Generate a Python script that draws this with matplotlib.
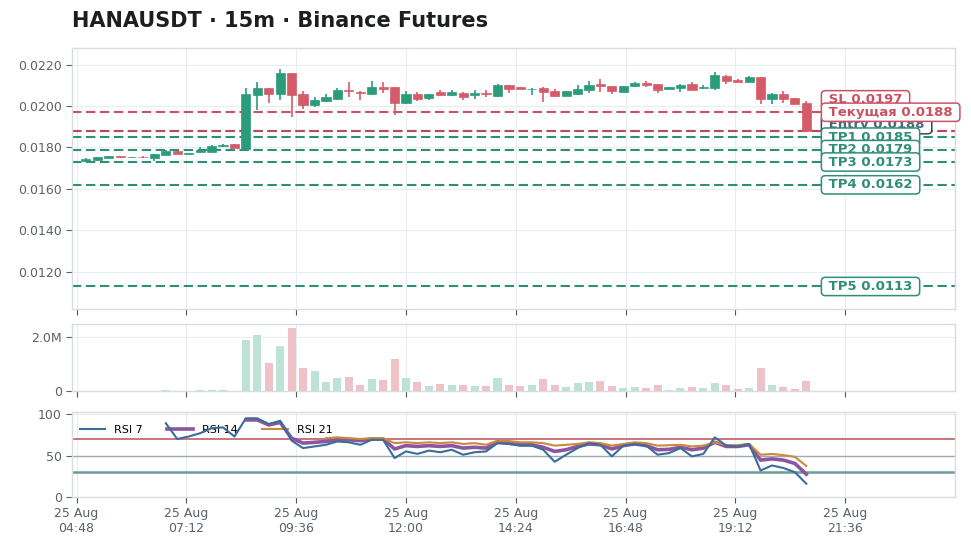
import matplotlib
matplotlib.use('Agg')
import matplotlib.pyplot as plt
import matplotlib.dates as mdates
from matplotlib.ticker import FuncFormatter
import numpy as np
import pandas as pd

# 15m candles, 05:00 .. 20:45
times = pd.date_range('2025-08-25 05:00', periods=64, freq='15min')

opens = [0.01733, 0.01738, 0.01751, 0.01759, 0.01752, 0.01755, 0.01748, 0.01765,
         0.01783, 0.01770, 0.01776, 0.01780, 0.01806, 0.01817, 0.01793, 0.02052,
         0.02087, 0.02058, 0.02157, 0.02058, 0.02003, 0.02023, 0.02034, 0.02079,
         0.02068, 0.02058, 0.02090, 0.02092, 0.02015, 0.02060, 0.02040, 0.02066,
         0.02052, 0.02063, 0.02053, 0.02062, 0.02047, 0.02099, 0.02090, 0.02080,
         0.02087, 0.02074, 0.02050, 0.02057, 0.02079, 0.02108, 0.02095, 0.02068,
         0.02095, 0.02110, 0.02105, 0.02084, 0.02087, 0.02105, 0.02086, 0.02086,
         0.02147, 0.02123, 0.02118, 0.02139, 0.02034, 0.02058, 0.02039, 0.02015]
highs = [0.01750, 0.01755, 0.01760, 0.01761, 0.01755, 0.01757, 0.01770, 0.01786,
         0.01785, 0.01774, 0.01800, 0.01810, 0.01818, 0.01819, 0.02087, 0.02115,
         0.02089, 0.02176, 0.02160, 0.02071, 0.02044, 0.02060, 0.02087, 0.02115,
         0.02070, 0.02120, 0.02115, 0.02094, 0.02071, 0.02068, 0.02060, 0.02079,
         0.02076, 0.02066, 0.02076, 0.02076, 0.02108, 0.02101, 0.02093, 0.02086,
         0.02093, 0.02080, 0.02074, 0.02103, 0.02120, 0.02132, 0.02097, 0.02097,
         0.02115, 0.02121, 0.02107, 0.02092, 0.02108, 0.02115, 0.02099, 0.02163,
         0.02149, 0.02132, 0.02147, 0.02141, 0.02063, 0.02074, 0.02041, 0.02026]
lows = [0.01728, 0.01735, 0.01749, 0.01750, 0.01750, 0.01750, 0.01733, 0.01763,
        0.01767, 0.01768, 0.01774, 0.01778, 0.01804, 0.01796, 0.01792, 0.01979,
        0.02015, 0.02028, 0.01945, 0.01986, 0.01994, 0.02020, 0.02028, 0.02042,
        0.02031, 0.02055, 0.02063, 0.01958, 0.02012, 0.02026, 0.02031, 0.02050,
        0.02050, 0.02028, 0.02034, 0.02044, 0.02045, 0.02063, 0.02081, 0.02055,
        0.02018, 0.02045, 0.02048, 0.02055, 0.02063, 0.02068, 0.02058, 0.02066,
        0.02093, 0.02094, 0.02063, 0.02082, 0.02068, 0.02077, 0.02084, 0.02079,
        0.02108, 0.02114, 0.02116, 0.02010, 0.02010, 0.02013, 0.02010, 0.01878]
closes = [0.01746, 0.01752, 0.01758, 0.01752, 0.01754, 0.01752, 0.01769, 0.01784,
          0.01769, 0.01772, 0.01789, 0.01808, 0.01814, 0.01798, 0.02058, 0.02087,
          0.02058, 0.02160, 0.02052, 0.02007, 0.02028, 0.02044, 0.02079, 0.02070,
          0.02063, 0.02090, 0.02084, 0.02015, 0.02058, 0.02034, 0.02058, 0.02052,
          0.02066, 0.02044, 0.02063, 0.02058, 0.02099, 0.02083, 0.02083, 0.02084,
          0.02068, 0.02050, 0.02071, 0.02083, 0.02103, 0.02095, 0.02071, 0.02095,
          0.02110, 0.02099, 0.02079, 0.02090, 0.02100, 0.02079, 0.02092, 0.02148,
          0.02121, 0.02116, 0.02139, 0.02034, 0.02058, 0.02036, 0.02012, 0.01880]

# volume in millions
volumes = [0.005, 0.004, 0.003, 0.003, 0.002, 0.004, 0.006, 0.03, 0.01, 0.005,
           0.03, 0.03, 0.02, 0.01, 1.90, 2.09, 1.06, 1.69, 2.36, 0.86,
           0.75, 0.34, 0.48, 0.52, 0.22, 0.45, 0.41, 1.19, 0.48, 0.34,
           0.19, 0.26, 0.22, 0.22, 0.19, 0.19, 0.48, 0.22, 0.19, 0.22,
           0.45, 0.22, 0.14, 0.30, 0.34, 0.37, 0.19, 0.10, 0.15, 0.10,
           0.22, 0.03, 0.10, 0.15, 0.10, 0.30, 0.22, 0.06, 0.10, 0.86,
           0.22, 0.15, 0.06, 0.37]

nan = np.nan
rsi7 = [nan] * 7 + [89, 70, 73, 77, 83, 84, 73, 95, 95, 88, 92, 68, 59, 61, 63, 67,
                    66, 63, 69, 69, 47, 55, 52, 56, 54, 57, 51, 54, 55, 65, 64, 62,
                    62, 57, 42.5, 51, 59, 65, 63, 49, 62, 64, 62, 51, 53, 59, 49, 52,
                    72, 62, 61, 64, 32, 38, 35, 30, 16]
rsi14 = [nan] * 14 + [93, 93, 87, 90, 71, 65, 66, 67, 69, 69, 68, 70, 70, 58, 62, 61,
                      62, 61, 62, 59, 60, 59, 66, 65, 63, 63, 60, 55, 57, 61, 64, 63,
                      58, 62, 64, 62, 57, 57.5, 60, 57, 59, 66, 61, 61, 63, 44.5, 46,
                      44.5, 40.5, 27.5]
rsi21 = [nan] * 21 + [71, 72, 71, 70, 71, 71, 65, 66, 65, 66, 65, 66, 64, 65, 63, 68,
                      67.5, 66, 66, 65, 62, 63, 64, 66, 65, 62, 64, 66, 65, 62, 62.5,
                      63, 61, 62, 66, 62.5, 62.5, 64, 51, 52, 50.5, 48.5, 37.5]

level_names = ['SL', 'Entry', 'TP1', 'TP2', 'TP3', 'TP4', 'TP5', 'Текущая']
level_prices = [0.0197, 0.0188, 0.0185, 0.0179, 0.0173, 0.0162, 0.0113, 0.0188]

tick_times = pd.to_datetime(['2025-08-25 04:48', '2025-08-25 07:12', '2025-08-25 09:36',
                             '2025-08-25 12:00', '2025-08-25 14:24', '2025-08-25 16:48',
                             '2025-08-25 19:12', '2025-08-25 21:36'])

GREEN = '#2b9c7a'
RED = '#d65b69'
TP_COL = '#2f8f76'
SL_COL = '#cc5263'
ENTRY_COL = '#4b6680'
GRID = '#e8edf1'
SPINE = '#d6dee4'
TICK = '#5a6168'

fig = plt.figure(figsize=(9.71, 5.48), dpi=100)
ax = fig.add_axes([0.0742, 0.4356, 0.9093, 0.4777])
axv = fig.add_axes([0.0742, 0.2865, 0.9093, 0.1223], sharex=ax)
axr = fig.add_axes([0.0742, 0.0931, 0.9093, 0.1542], sharex=ax)

x = mdates.date2num(times)
step = 15 / 1440.0
up = np.array(closes) >= np.array(opens)

# candles
for i in range(len(x)):
    c = GREEN if up[i] else RED
    ax.vlines(x[i], lows[i], highs[i], color=c, lw=1.2, zorder=3)
    lo = min(opens[i], closes[i])
    h = max(abs(closes[i] - opens[i]), 0.00003)
    ax.bar(x[i], h, bottom=lo, width=step * 0.8, color=c, edgecolor=c, lw=0.5, zorder=4)

# level lines
for name, p in zip(level_names, level_prices):
    if name == 'SL':
        col = SL_COL
    elif name in ('Текущая', 'Entry'):
        col = '#b84a5e'
    else:
        col = TP_COL
    ax.axhline(p, color=col, lw=1.5, ls=(0, (4.5, 2.2)), zorder=2)

# labels, pushed apart so they do not sit on top of each other
gap = 0.0006
order = sorted(range(len(level_prices)), key=lambda k: (level_prices[k], k))
label_y = {}
last = None
for k in order:
    y = level_prices[k]
    if last is not None and y < last + gap:
        y = last + gap
    label_y[k] = y
    last = y

label_x = x[-1] + step * 1.55
for k, (name, p) in enumerate(zip(level_names, level_prices)):
    if name == 'SL' or name == 'Текущая':
        col, ecol = SL_COL, SL_COL
    elif name == 'Entry':
        col, ecol = ENTRY_COL, '#3a4756'
    else:
        col, ecol = TP_COL, TP_COL
    ax.text(label_x, label_y[k], f' {name} {p:.4f} ', color=col, fontsize=9.5,
            fontweight='bold', ha='left', va='center', zorder=10 + k,
            bbox=dict(boxstyle='round,pad=0.2,rounding_size=0.3', fc='white',
                      ec=ecol, lw=1.1))

ax.set_ylim(0.01020, 0.02282)
ax.set_yticks([0.012, 0.014, 0.016, 0.018, 0.020, 0.022])
ax.yaxis.set_major_formatter(FuncFormatter(lambda v, _: f'{v:.4f}'))

# volume
vcol = ['#bfe2d6' if u else '#efc2c7' for u in up]
axv.bar(x, np.array(volumes) * 1e6, width=step * 0.7, color=vcol, zorder=3)
axv.set_ylim(0, 2.5e6)
axv.set_yticks([0, 2e6])
axv.yaxis.set_major_formatter(FuncFormatter(lambda v, _: '0' if v == 0 else f'{v / 1e6:.1f}M'))

# rsi
axr.axhline(70, color='#c9747d', lw=1.4, zorder=2)
axr.axhline(50, color='#9eabad', lw=1.0, zorder=2)
axr.axhline(30, color='#6c9c97', lw=1.8, zorder=2)
axr.plot(x, rsi7, color='#3b6d9b', lw=1.5, label='RSI 7', zorder=4)
axr.plot(x, rsi14, color='#8b559f', lw=2.6, label='RSI 14', zorder=3)
axr.plot(x, rsi21, color='#c98a3d', lw=1.5, label='RSI 21', zorder=3)
axr.set_ylim(0, 102)
axr.set_yticks([0, 50, 100])
leg = axr.legend(loc='center left', bbox_to_anchor=(0.0, 0.79), ncol=3, frameon=False,
                 fontsize=8, handlelength=2.3, columnspacing=2.2, borderaxespad=0.3)
leg.set_zorder(1)

axr.set_xlim(mdates.date2num(pd.Timestamp('2025-08-25 04:42')),
             mdates.date2num(pd.Timestamp('2025-08-26 00:00')))
axr.set_xticks(mdates.date2num(tick_times))
axr.xaxis.set_major_formatter(mdates.DateFormatter('%d %b\n%H:%M'))

for a in (ax, axv, axr):
    a.set_facecolor('white')
    a.grid(True, color=GRID, lw=0.8, zorder=0)
    a.set_axisbelow(True)
    for s in a.spines.values():
        s.set_color(SPINE)
        s.set_linewidth(1.0)
    a.tick_params(axis='both', colors=TICK, labelsize=9, length=4, width=0.8)
    a.tick_params(axis='x', color='#555555')
for a in (ax, axv):
    plt.setp(a.get_xticklabels(), visible=False)

fig.text(0.0742, 0.962, 'HANAUSDT · 15m · Binance Futures', fontsize=15,
         fontweight='bold', color='#1c1f22', ha='left', va='center')

fig.savefig('out.png', dpi=100, facecolor='white')
